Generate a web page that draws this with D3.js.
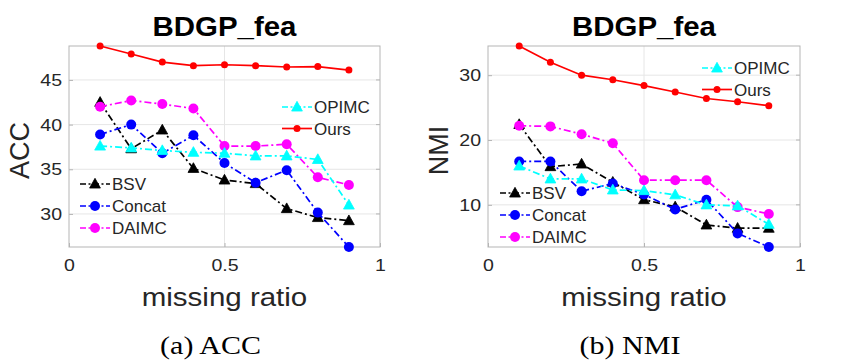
<!DOCTYPE html>
<html>
<head>
<meta charset="utf-8">
<script src="https://cdn.jsdelivr.net/npm/d3@7"></script>
<style>
  body { margin: 0; background: #fff; }
  svg text { font-family: "Liberation Sans", Arial, sans-serif; }
</style>
</head>
<body>
<div id="chart"></div>
<script>
// Data
const missingRatio = [0.1, 0.2, 0.3, 0.4, 0.5, 0.6, 0.7, 0.8, 0.9];
const methods = ["BSV", "Concat", "DAIMC", "OPIMC", "Ours"];

const accBSV    = [42.5, 37.3, 39.4, 35.1, 33.8, 33.4, 30.6, 29.6, 29.25];
const accConcat = [38.9, 40.0, 36.8, 38.8, 35.7, 33.5, 34.9, 30.15, 26.3];
const accDAIMC  = [42.0, 42.7, 42.3, 41.8, 37.6, 37.6, 37.8, 34.1, 33.25];
const accOPIMC  = [37.6, 37.4, 37.1, 36.9, 36.8, 36.5, 36.5, 36.1, 31.0];
const accOurs   = [48.8, 47.9, 47.0, 46.6, 46.7, 46.6, 46.45, 46.5, 46.1];

const nmiBSV    = [22.4, 15.9, 16.3, 13.5, 10.8, 9.7, 6.9, 6.4, 6.4];
const nmiConcat = [16.7, 16.7, 12.1, 13.3, 11.6, 9.3, 10.8, 5.6, 3.5];
const nmiDAIMC  = [22.2, 22.1, 20.9, 19.5, 13.8, 13.8, 13.8, 9.65, 8.6];
const nmiOPIMC  = [16.0, 14.0, 14.0, 12.3, 12.2, 11.55, 10.0, 9.85, 7.0];
const nmiOurs   = [34.5, 32.0, 30.0, 29.3, 28.4, 27.4, 26.4, 25.9, 25.3];

const xTicks = [0, 0.5, 1];
const xTickLabels = ["0", "0.5", "1"];
const accTicks = [30, 35, 40, 45];
const nmiTicks = [10, 20, 30];

// Styles per method
const style = {
  BSV:    { color: "#000000", dash: "7,3,2,3", marker: "triangle", size: 5.4 },
  Concat: { color: "#0000ff", dash: "7,3,2,3", marker: "circle", size: 5 },
  DAIMC:  { color: "#ff00ff", dash: "7,3,2,3", marker: "circle", size: 5 },
  OPIMC:  { color: "#00ffff", dash: "7,3,2,3", marker: "triangle", size: 5.4 },
  Ours:   { color: "#ff0000", dash: null,      marker: "dot", size: 3.5 }
};

const width = 842, height = 361;
const svg = d3.select("#chart").append("svg")
  .attr("width", width)
  .attr("height", height);

const panels = [
  {
    left: 69, right: 380, top: 46, bottom: 247,
    ylabel: "ACC", caption: "(a) ACC", ticks: accTicks,
    series: { BSV: accBSV, Concat: accConcat, DAIMC: accDAIMC, OPIMC: accOPIMC, Ours: accOurs },
    legendTop: { x: 282, y: 107 },
    legendBottom: { x: 80, y: 184 }
  },
  {
    left: 488, right: 800, top: 46, bottom: 247,
    ylabel: "NMI", caption: "(b) NMI", ticks: nmiTicks,
    series: { BSV: nmiBSV, Concat: nmiConcat, DAIMC: nmiDAIMC, OPIMC: nmiOPIMC, Ours: nmiOurs },
    legendTop: { x: 702, y: 68 },
    legendBottom: { x: 500, y: 193 }
  }
];

function drawMarker(g, type, x, y, size, color) {
  if (type === "triangle") {
    const s = size;
    g.append("path")
      .attr("d", `M${x},${y - s * 1.05}L${x + s},${y + s * 0.75}L${x - s},${y + s * 0.75}Z`)
      .attr("fill", color)
      .attr("stroke", color)
      .attr("stroke-width", 0.8);
  } else {
    g.append("circle")
      .attr("cx", x).attr("cy", y).attr("r", size)
      .attr("fill", color);
  }
}

// the figure is slightly stretched sideways, so text gets a horizontal scale
function stretchedText(g, x, y, sx) {
  return g.append("text")
    .attr("transform", `translate(${x},${y}) scale(${sx},1)`);
}

panels.forEach(p => {
  const g = svg.append("g");
  const cx = (p.left + p.right) / 2;

  // y domain is tight to the data, like MATLAB "axis tight"
  const all = methods.flatMap(m => p.series[m]);
  const xScale = d3.scaleLinear().domain([0, 1]).range([p.left, p.right]);
  const yScale = d3.scaleLinear().domain([d3.min(all), d3.max(all)]).range([p.bottom, p.top]);

  // Grid lines
  g.selectAll(".vgrid").data(xTicks.slice(1, -1)).enter().append("line")
    .attr("x1", d => xScale(d)).attr("x2", d => xScale(d))
    .attr("y1", p.top).attr("y2", p.bottom)
    .attr("stroke", "#e6e6e6").attr("stroke-width", 1);
  g.selectAll(".hgrid").data(p.ticks).enter().append("line")
    .attr("x1", p.left).attr("x2", p.right)
    .attr("y1", d => yScale(d)).attr("y2", d => yScale(d))
    .attr("stroke", "#e6e6e6").attr("stroke-width", 1);

  // Axes (ticks pointing inward, labels outside)
  const xAxis = d3.axisBottom(xScale).tickValues(xTicks)
    .tickFormat((d, i) => xTickLabels[i]).tickSize(-4).tickPadding(12);
  const yAxis = d3.axisLeft(yScale).tickValues(p.ticks).tickSize(-4).tickPadding(7);

  const gx = g.append("g").attr("transform", `translate(0,${p.bottom})`).call(xAxis);
  const gy = g.append("g").attr("transform", `translate(${p.left},0)`).call(yAxis);
  [gx, gy].forEach(a => {
    a.select(".domain").remove();
    a.selectAll(".tick line").attr("stroke", "#b5b5b5");
    a.selectAll(".tick text")
      .style("font-family", "Liberation Sans, Arial, sans-serif")
      .style("font-size", "17px")
      .attr("fill", "#262626");
  });
  // stretch tick labels sideways around their anchor
  gx.selectAll(".tick text").attr("transform", "scale(1.15,1)");
  gy.selectAll(".tick text").attr("transform", function () {
    const x = +d3.select(this).attr("x");
    return `translate(${x},0) scale(1.15,1) translate(${-x},0)`;
  });

  // Box
  g.append("rect")
    .attr("x", p.left).attr("y", p.top)
    .attr("width", p.right - p.left).attr("height", p.bottom - p.top)
    .attr("fill", "none").attr("stroke", "#b5b5b5").attr("stroke-width", 1);
  // right ticks
  g.selectAll(".rtick").data(p.ticks).enter().append("line")
    .attr("x1", p.right).attr("x2", p.right - 4)
    .attr("y1", d => yScale(d)).attr("y2", d => yScale(d))
    .attr("stroke", "#b5b5b5");

  // Lines and markers
  const line = d3.line()
    .x((d, i) => xScale(missingRatio[i]))
    .y(d => yScale(d));

  methods.forEach(m => {
    const st = style[m];
    g.append("path")
      .datum(p.series[m])
      .attr("d", line)
      .attr("fill", "none")
      .attr("stroke", st.color)
      .attr("stroke-width", 1.7)
      .attr("stroke-dasharray", st.dash);
    p.series[m].forEach((v, i) => {
      drawMarker(g, st.marker, xScale(missingRatio[i]), yScale(v), st.size, st.color);
    });
  });

  // Legends (no box)
  function legendRow(m, x, y) {
    const st = style[m];
    g.append("line")
      .attr("x1", x).attr("x2", x + 30).attr("y1", y).attr("y2", y)
      .attr("stroke", st.color).attr("stroke-width", 1.7)
      .attr("stroke-dasharray", st.dash ? "6,2.5,2,2.5" : null);
    drawMarker(g, st.marker, x + 15, y, st.size, st.color);
    g.append("text")
      .attr("x", x + 32).attr("y", y)
      .attr("dy", "0.36em")
      .style("font-size", "17px")
      .attr("fill", "#262626")
      .text(m);
  }
  ["OPIMC", "Ours"].forEach((m, i) => legendRow(m, p.legendTop.x, p.legendTop.y + i * 21.5));
  ["BSV", "Concat", "DAIMC"].forEach((m, i) => legendRow(m, p.legendBottom.x, p.legendBottom.y + i * 22));

  // Title
  stretchedText(g, cx, 36, 1.09)
    .attr("text-anchor", "middle")
    .style("font-size", "27px")
    .style("font-weight", "bold")
    .attr("fill", "#000")
    .text("BDGP_fea");

  // Axis labels
  stretchedText(g, cx, 306, 1.18)
    .attr("text-anchor", "middle")
    .style("font-size", "25px")
    .attr("fill", "#262626")
    .text("missing ratio");

  g.append("text")
    .attr("text-anchor", "middle")
    .attr("transform", `translate(${p.left - 40},${(p.top + p.bottom) / 2 + 4}) rotate(-90)`)
    .style("font-size", "27px")
    .attr("fill", "#262626")
    .text(p.ylabel);

  // Caption
  stretchedText(g, cx - 14, 354, 1.2)
    .attr("text-anchor", "middle")
    .style("font-family", "Liberation Serif, Times New Roman, serif")
    .style("font-size", "25px")
    .attr("fill", "#000")
    .text(p.caption);
});
</script>
</body>
</html>
